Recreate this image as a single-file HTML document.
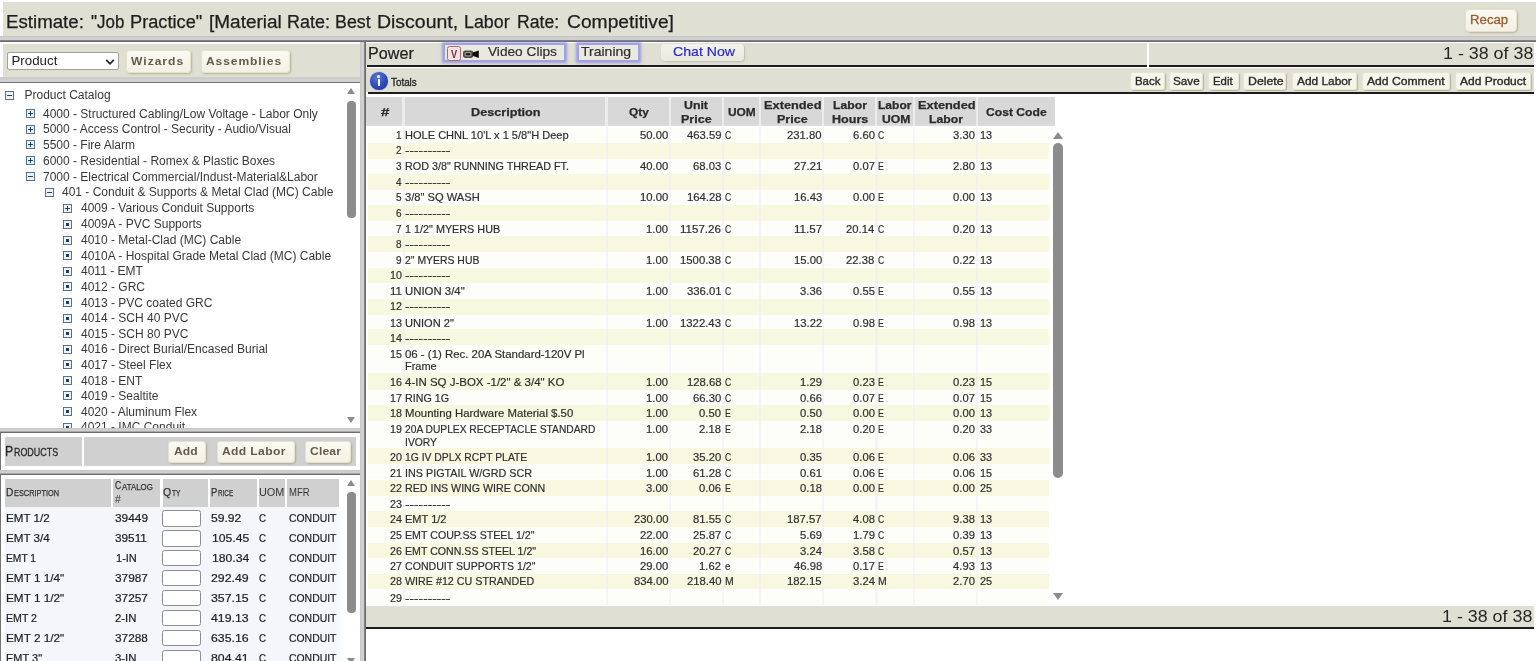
<!DOCTYPE html>
<html><head><meta charset="utf-8"><title>Estimate</title><style>
*{box-sizing:border-box;margin:0;padding:0}
html,body{width:1536px;height:661px;overflow:hidden;background:#fff}
body{font-family:"Liberation Sans",sans-serif;color:#222}
#root{position:absolute;left:0;top:0;width:1536px;height:661px;overflow:hidden;will-change:transform}
.abs{position:absolute}
.t{position:absolute;white-space:pre;line-height:1}
.beige{background:#dfdfd3}
.tr{position:absolute;height:16px;white-space:nowrap;font-size:12px;color:#383838;line-height:16px}
.ic{position:absolute;width:9px;height:9px;border:1px solid #56728f;background:#edf3fb}
.ic i{position:absolute;background:#1f3d66}
.ic .h{left:1px;top:3px;width:5px;height:1px}
.ic .v{left:3px;top:1px;width:1px;height:5px}
.ic .d{left:2px;top:2px;width:3px;height:3px}
.btn{position:absolute;border-radius:4px;background:linear-gradient(#fbfaf3,#f3f1e4);box-shadow:1px 1px 2px rgba(150,140,100,.55), inset 0 0 0 1px rgba(225,220,195,.8)}
.sb{position:absolute;border-radius:3px;background:#f6f5ec;box-shadow:1px 1px 1px rgba(160,150,120,.6), inset 0 0 0 1px #e6e3d0;height:18px;top:72.3px}
.hc{position:absolute;top:97px;height:28.8px;background:linear-gradient(#d8d8d9 0,#d8d8d9 90%,#dedede 100%)}
.row{position:absolute;left:367.6px;width:681.8px}
.vl{position:absolute;width:2.2px;margin-left:-.4px;background:rgba(232,232,246,.38);top:127px;height:478px}
.ph{position:absolute;background:#d0d0d0}
.inp{position:absolute;left:162.4px;width:39px;height:16.3px;border:1px solid #8e8e8e;border-radius:2.5px;background:#fff}
.sbar{position:absolute;background:#8c8c8c;border-radius:4px}
.up{position:absolute;width:0;height:0;border-left:4.5px solid transparent;border-right:4.5px solid transparent;border-bottom:6px solid #8c8c8c}
.dn{position:absolute;width:0;height:0;border-left:4.5px solid transparent;border-right:4.5px solid transparent;border-top:6.5px solid #8c8c8c}
</style></head><body><div id="root">
<div class="abs beige" style="left:3px;top:2px;width:1533px;height:34px"></div>
<div class="t" style="left:6.24px;top:14.30px;font-size:17.6px;transform:scaleX(1.0624);transform-origin:0 0;color:#1e1e1e;-webkit-text-stroke:.25px #1e1e1e">Estimate:</div>
<div class="t" style="left:90.70px;top:14.30px;font-size:17.6px;transform:scaleX(0.9619);transform-origin:0 0;color:#1e1e1e;-webkit-text-stroke:.25px #1e1e1e">&quot;Job</div>
<div class="t" style="left:129.56px;top:14.30px;font-size:17.6px;transform:scaleX(1.0357);transform-origin:0 0;color:#1e1e1e;-webkit-text-stroke:.25px #1e1e1e">Practice&quot;</div>
<div class="t" style="left:208.52px;top:14.30px;font-size:17.6px;transform:scaleX(1.0785);transform-origin:0 0;color:#1e1e1e;-webkit-text-stroke:.25px #1e1e1e">[Material</div>
<div class="t" style="left:287.18px;top:14.30px;font-size:17.6px;transform:scaleX(1.0208);transform-origin:0 0;color:#1e1e1e;-webkit-text-stroke:.25px #1e1e1e">Rate:</div>
<div class="t" style="left:334.99px;top:14.30px;font-size:17.6px;transform:scaleX(1.0141);transform-origin:0 0;color:#1e1e1e;-webkit-text-stroke:.25px #1e1e1e">Best</div>
<div class="t" style="left:377.19px;top:14.30px;font-size:17.6px;transform:scaleX(1.1057);transform-origin:0 0;color:#1e1e1e;-webkit-text-stroke:.25px #1e1e1e">Discount,</div>
<div class="t" style="left:463.89px;top:14.30px;font-size:17.6px;transform:scaleX(1.0150);transform-origin:0 0;color:#1e1e1e;-webkit-text-stroke:.25px #1e1e1e">Labor</div>
<div class="t" style="left:517.40px;top:14.30px;font-size:17.6px;transform:scaleX(1.0034);transform-origin:0 0;color:#1e1e1e;-webkit-text-stroke:.25px #1e1e1e">Rate:</div>
<div class="t" style="left:566.70px;top:14.30px;font-size:17.6px;transform:scaleX(1.0940);transform-origin:0 0;color:#1e1e1e;-webkit-text-stroke:.25px #1e1e1e">Competitive]</div>
<div class="btn" style="left:1464.8px;top:8.7px;width:52.2px;height:23.8px;border-radius:5px"></div>
<div class="t" style="left:1469.63px;top:13.10px;font-size:13.7px;transform:scaleX(0.9653);transform-origin:0 0;color:#9a5a2e;-webkit-text-stroke:.3px #9a5a2e">Recap</div>
<div class="abs" style="left:0;top:36px;width:1536px;height:6px;background:linear-gradient(#bebebe 0,#cecece 18%,#d1d1d1 66%,#8a8a8a 73%,#6c6c6c 80%,#6c6c6c 100%)"></div>
<div class="abs beige" style="left:3px;top:44px;width:357px;height:33.4px"></div>
<div class="abs" style="left:6.5px;top:52px;width:112.5px;height:18.3px;background:#fff;border:1px solid #a2a29a;border-radius:2px"></div>
<div class="t" style="left:11.5px;top:54.2px;font-size:13.3px;color:#222">Product</div>
<svg class="abs" style="left:105px;top:57.5px" width="10" height="8" viewBox="0 0 10 8"><path d="M1.2 1.8 L5 5.8 L8.8 1.8" fill="none" stroke="#222" stroke-width="1.7"/></svg>
<div class="btn" style="left:125.5px;top:50px;width:65.5px;height:23px"></div>
<div class="btn" style="left:201px;top:50px;width:88.5px;height:23px"></div>
<div class="t" style="left:130.50px;top:56.00px;font-size:11px;letter-spacing:0.886px;transform:scaleX(1.1);transform-origin:0 0;font-weight:bold;color:#66594a">Wizards</div>
<div class="t" style="left:206.30px;top:56.00px;font-size:11px;letter-spacing:0.795px;transform:scaleX(1.1);transform-origin:0 0;font-weight:bold;color:#66594a">Assemblies</div>
<div class="abs" style="left:0;top:76.8px;width:360.5px;height:6.2px;background:linear-gradient(#d4d4ca 0,#c8c8c8 18%,#d1d1d1 40%,#d0d0d0 78%,#8a8a8a 84%,#707070 90%,#707070 100%)"></div>
<div class="abs" style="left:0;top:82px;width:360.5px;height:345.5px;overflow:hidden">
<div class="ic" style="left:5px;top:8.50px"><i class="h"></i></div>
<div class="tr" style="left:24.5px;top:5.20px">Product Catalog</div>
<div class="ic" style="left:26px;top:27.10px"><i class="h"></i><i class="v"></i></div>
<div class="tr" style="left:43px;top:23.80px">4000 - Structured Cabling/Low Voltage - Labor Only</div>
<div class="ic" style="left:26px;top:42.60px"><i class="h"></i><i class="v"></i></div>
<div class="tr" style="left:43px;top:39.30px">5000 - Access Control - Security - Audio/Visual</div>
<div class="ic" style="left:26px;top:58.40px"><i class="h"></i><i class="v"></i></div>
<div class="tr" style="left:43px;top:55.10px">5500 - Fire Alarm</div>
<div class="ic" style="left:26px;top:73.90px"><i class="h"></i><i class="v"></i></div>
<div class="tr" style="left:43px;top:70.60px">6000 - Residential - Romex &amp; Plastic Boxes</div>
<div class="ic" style="left:26px;top:89.80px"><i class="h"></i></div>
<div class="tr" style="left:43px;top:86.50px">7000 - Electrical Commercial/Indust-Material&amp;Labor</div>
<div class="ic" style="left:44.5px;top:105.60px"><i class="h"></i></div>
<div class="tr" style="left:62px;top:102.30px">401 - Conduit &amp; Supports &amp; Metal Clad (MC) Cable</div>
<div class="ic" style="left:63px;top:121.70px"><i class="h"></i><i class="v"></i></div>
<div class="tr" style="left:81px;top:118.40px">4009 - Various Conduit Supports</div>
<div class="ic" style="left:63px;top:137.70px"><i class="d"></i></div>
<div class="tr" style="left:81px;top:134.40px">4009A - PVC Supports</div>
<div class="ic" style="left:63px;top:153.50px"><i class="d"></i></div>
<div class="tr" style="left:81px;top:150.20px">4010 - Metal-Clad (MC) Cable</div>
<div class="ic" style="left:63px;top:168.90px"><i class="d"></i></div>
<div class="tr" style="left:81px;top:165.60px">4010A - Hospital Grade Metal Clad (MC) Cable</div>
<div class="ic" style="left:63px;top:184.50px"><i class="d"></i></div>
<div class="tr" style="left:81px;top:181.20px">4011 - EMT</div>
<div class="ic" style="left:63px;top:200.30px"><i class="d"></i></div>
<div class="tr" style="left:81px;top:197.00px">4012 - GRC</div>
<div class="ic" style="left:63px;top:215.90px"><i class="d"></i></div>
<div class="tr" style="left:81px;top:212.60px">4013 - PVC coated GRC</div>
<div class="ic" style="left:63px;top:231.60px"><i class="d"></i></div>
<div class="tr" style="left:81px;top:228.30px">4014 - SCH 40 PVC</div>
<div class="ic" style="left:63px;top:247.00px"><i class="d"></i></div>
<div class="tr" style="left:81px;top:243.70px">4015 - SCH 80 PVC</div>
<div class="ic" style="left:63px;top:262.70px"><i class="d"></i></div>
<div class="tr" style="left:81px;top:259.40px">4016 - Direct Burial/Encased Burial</div>
<div class="ic" style="left:63px;top:278.30px"><i class="d"></i></div>
<div class="tr" style="left:81px;top:275.00px">4017 - Steel Flex</div>
<div class="ic" style="left:63px;top:293.80px"><i class="d"></i></div>
<div class="tr" style="left:81px;top:290.50px">4018 - ENT</div>
<div class="ic" style="left:63px;top:309.40px"><i class="d"></i></div>
<div class="tr" style="left:81px;top:306.10px">4019 - Sealtite</div>
<div class="ic" style="left:63px;top:325.10px"><i class="d"></i></div>
<div class="tr" style="left:81px;top:321.80px">4020 - Aluminum Flex</div>
<div class="ic" style="left:63px;top:340.70px"><i class="d"></i></div>
<div class="tr" style="left:81px;top:337.40px">4021 - IMC Conduit</div>
</div>
<div class="up" style="left:347px;top:87.6px"></div>
<div class="sbar" style="left:347.3px;top:101px;width:8.3px;height:116.5px"></div>
<div class="dn" style="left:347px;top:416.8px"></div>
<div class="abs" style="left:0;top:427.5px;width:360.5px;height:5.8px;background:linear-gradient(#bebebe 0,#cecece 18%,#d1d1d1 66%,#8a8a8a 73%,#6c6c6c 80%,#6c6c6c 100%)"></div>
<div class="ph" style="left:5px;top:437px;width:77.3px;height:29px"></div>
<div class="ph" style="left:84.4px;top:437px;width:271.2px;height:29px"></div>
<div class="t" style="left:4.95px;top:444.00px;font-size:14.4px;transform:scaleX(0.8500);transform-origin:0 0;color:#2a2a2a;-webkit-text-stroke:.3px #2a2a2a">P</div>
<div class="t" style="left:13.60px;top:447.50px;font-size:10.3px;transform:scaleX(0.8659);transform-origin:0 0;color:#2a2a2a;-webkit-text-stroke:.3px #2a2a2a">RODUCTS</div>
<div class="btn" style="left:167.5px;top:440.7px;width:38.5px;height:22.6px"></div>
<div class="btn" style="left:216.5px;top:440.7px;width:78.8px;height:22.6px"></div>
<div class="btn" style="left:305.4px;top:440.7px;width:45.8px;height:22.6px"></div>
<div class="t" style="left:174.20px;top:446.20px;font-size:11px;letter-spacing:0.032px;transform:scaleX(1.1);transform-origin:0 0;font-weight:bold;color:#66594a">Add</div>
<div class="t" style="left:221.60px;top:446.20px;font-size:11px;letter-spacing:0.331px;transform:scaleX(1.1);transform-origin:0 0;font-weight:bold;color:#66594a">Add Labor</div>
<div class="t" style="left:310.30px;top:446.20px;font-size:11px;letter-spacing:0.146px;transform:scaleX(1.1);transform-origin:0 0;font-weight:bold;color:#66594a">Clear</div>
<div class="abs" style="left:0;top:469.6px;width:360.5px;height:5.8px;background:linear-gradient(#bebebe 0,#cecece 18%,#d1d1d1 66%,#8a8a8a 73%,#6c6c6c 80%,#6c6c6c 100%)"></div>
<div class="abs" style="left:5px;top:507px;width:340px;height:154px;background:linear-gradient(90deg,#f4f6fc 0,#f4f6fc 97%,#fff 100%)"></div>
<div class="ph" style="left:5px;top:478.5px;width:105.5px;height:28.5px"></div>
<div class="ph" style="left:113px;top:478.5px;width:47px;height:28.5px"></div>
<div class="ph" style="left:162.5px;top:478.5px;width:45.5px;height:28.5px"></div>
<div class="ph" style="left:210px;top:478.5px;width:47px;height:28.5px"></div>
<div class="ph" style="left:259px;top:478.5px;width:26.3px;height:28.5px"></div>
<div class="ph" style="left:287.2px;top:478.5px;width:52.1px;height:28.5px"></div>
<div class="t" style="left:5.70px;top:486.70px;font-size:11.8px;transform:scaleX(0.8625);transform-origin:0 0;color:#333;-webkit-text-stroke:.25px #333">D</div>
<div class="t" style="left:13.60px;top:489.00px;font-size:8.8px;transform:scaleX(0.8388);transform-origin:0 0;color:#333;-webkit-text-stroke:.25px #333">ESCRIPTION</div>
<div class="t" style="left:114.80px;top:480.20px;font-size:11.8px;transform:scaleX(0.7333);transform-origin:0 0;color:#333;-webkit-text-stroke:.25px #333">C</div>
<div class="t" style="left:122.40px;top:482.50px;font-size:8.8px;transform:scaleX(0.8947);transform-origin:0 0;color:#333;-webkit-text-stroke:.25px #333">ATALOG</div>
<div class="t" style="left:115.00px;top:493.60px;font-size:11.2px;transform:scaleX(0.9286);transform-origin:0 0;color:#333">#</div>
<div class="t" style="left:163.20px;top:486.70px;font-size:11.8px;transform:scaleX(0.8889);transform-origin:0 0;color:#333;-webkit-text-stroke:.25px #333">Q</div>
<div class="t" style="left:172.20px;top:489.00px;font-size:8.8px;transform:scaleX(0.7561);transform-origin:0 0;color:#333;-webkit-text-stroke:.25px #333">TY</div>
<div class="t" style="left:211.00px;top:486.70px;font-size:11.8px;transform:scaleX(0.8000);transform-origin:0 0;color:#333;-webkit-text-stroke:.25px #333">P</div>
<div class="t" style="left:218.40px;top:489.00px;font-size:8.8px;transform:scaleX(0.7187);transform-origin:0 0;color:#333;-webkit-text-stroke:.25px #333">RICE</div>
<div class="t" style="left:259.30px;top:486.80px;font-size:11.2px;transform:scaleX(0.9697);transform-origin:0 0;color:#333">UOM</div>
<div class="t" style="left:289.00px;top:486.80px;font-size:11.2px;transform:scaleX(0.8488);transform-origin:0 0;color:#333">MFR</div>
<div class="t" style="left:5.80px;top:513.00px;font-size:10.8px;transform:scaleX(1.0737);transform-origin:0 0;color:#1c1c1c;-webkit-text-stroke:.2px #1c1c1c">EMT 1/2</div>
<div class="t" style="left:115.20px;top:513.00px;font-size:10.8px;transform:scaleX(1.1026);transform-origin:0 0;color:#1c1c1c;-webkit-text-stroke:.2px #1c1c1c">39449</div>
<div class="inp" style="top:510.30px"></div>
<div class="t" style="left:211.30px;top:513.00px;font-size:10.8px;transform:scaleX(1.1216);transform-origin:0 0;color:#1c1c1c;-webkit-text-stroke:.2px #1c1c1c">59.92</div>
<div class="t" style="left:259.40px;top:513.00px;font-size:10.8px;transform:scaleX(0.9000);transform-origin:0 0;color:#1c1c1c;-webkit-text-stroke:.2px #1c1c1c">C</div>
<div class="t" style="left:288.80px;top:513.00px;font-size:10.8px;transform:scaleX(0.9640);transform-origin:0 0;color:#1c1c1c;-webkit-text-stroke:.2px #1c1c1c">CONDUIT</div>
<div class="t" style="left:5.80px;top:532.95px;font-size:10.8px;transform:scaleX(1.0786);transform-origin:0 0;color:#1c1c1c;-webkit-text-stroke:.2px #1c1c1c">EMT 3/4</div>
<div class="t" style="left:115.20px;top:532.95px;font-size:10.8px;transform:scaleX(1.0918);transform-origin:0 0;color:#1c1c1c;-webkit-text-stroke:.2px #1c1c1c">39511</div>
<div class="inp" style="top:530.25px"></div>
<div class="t" style="left:211.70px;top:532.95px;font-size:10.8px;transform:scaleX(1.1266);transform-origin:0 0;color:#1c1c1c;-webkit-text-stroke:.2px #1c1c1c">105.45</div>
<div class="t" style="left:259.40px;top:532.95px;font-size:10.8px;transform:scaleX(0.9000);transform-origin:0 0;color:#1c1c1c;-webkit-text-stroke:.2px #1c1c1c">C</div>
<div class="t" style="left:288.80px;top:532.95px;font-size:10.8px;transform:scaleX(0.9640);transform-origin:0 0;color:#1c1c1c;-webkit-text-stroke:.2px #1c1c1c">CONDUIT</div>
<div class="t" style="left:5.80px;top:552.90px;font-size:10.8px;transform:scaleX(0.9500);transform-origin:0 0;color:#1c1c1c;-webkit-text-stroke:.2px #1c1c1c">EMT 1</div>
<div class="t" style="left:115.80px;top:552.90px;font-size:10.8px;transform:scaleX(1.0204);transform-origin:0 0;color:#1c1c1c;-webkit-text-stroke:.2px #1c1c1c">1-IN</div>
<div class="inp" style="top:550.20px"></div>
<div class="t" style="left:211.70px;top:552.90px;font-size:10.8px;transform:scaleX(1.1266);transform-origin:0 0;color:#1c1c1c;-webkit-text-stroke:.2px #1c1c1c">180.34</div>
<div class="t" style="left:259.40px;top:552.90px;font-size:10.8px;transform:scaleX(0.9000);transform-origin:0 0;color:#1c1c1c;-webkit-text-stroke:.2px #1c1c1c">C</div>
<div class="t" style="left:288.80px;top:552.90px;font-size:10.8px;transform:scaleX(0.9640);transform-origin:0 0;color:#1c1c1c;-webkit-text-stroke:.2px #1c1c1c">CONDUIT</div>
<div class="t" style="left:5.80px;top:572.85px;font-size:10.8px;transform:scaleX(1.0891);transform-origin:0 0;color:#1c1c1c;-webkit-text-stroke:.2px #1c1c1c">EMT 1 1/4&quot;</div>
<div class="t" style="left:115.20px;top:572.85px;font-size:10.8px;transform:scaleX(1.0960);transform-origin:0 0;color:#1c1c1c;-webkit-text-stroke:.2px #1c1c1c">37987</div>
<div class="inp" style="top:570.15px"></div>
<div class="t" style="left:211.30px;top:572.85px;font-size:10.8px;transform:scaleX(1.1388);transform-origin:0 0;color:#1c1c1c;-webkit-text-stroke:.2px #1c1c1c">292.49</div>
<div class="t" style="left:259.40px;top:572.85px;font-size:10.8px;transform:scaleX(0.9000);transform-origin:0 0;color:#1c1c1c;-webkit-text-stroke:.2px #1c1c1c">C</div>
<div class="t" style="left:288.80px;top:572.85px;font-size:10.8px;transform:scaleX(0.9640);transform-origin:0 0;color:#1c1c1c;-webkit-text-stroke:.2px #1c1c1c">CONDUIT</div>
<div class="t" style="left:5.80px;top:592.80px;font-size:10.8px;transform:scaleX(1.0891);transform-origin:0 0;color:#1c1c1c;-webkit-text-stroke:.2px #1c1c1c">EMT 1 1/2&quot;</div>
<div class="t" style="left:115.20px;top:592.80px;font-size:10.8px;transform:scaleX(1.0960);transform-origin:0 0;color:#1c1c1c;-webkit-text-stroke:.2px #1c1c1c">37257</div>
<div class="inp" style="top:590.10px"></div>
<div class="t" style="left:211.30px;top:592.80px;font-size:10.8px;transform:scaleX(1.1388);transform-origin:0 0;color:#1c1c1c;-webkit-text-stroke:.2px #1c1c1c">357.15</div>
<div class="t" style="left:259.40px;top:592.80px;font-size:10.8px;transform:scaleX(0.9000);transform-origin:0 0;color:#1c1c1c;-webkit-text-stroke:.2px #1c1c1c">C</div>
<div class="t" style="left:288.80px;top:592.80px;font-size:10.8px;transform:scaleX(0.9640);transform-origin:0 0;color:#1c1c1c;-webkit-text-stroke:.2px #1c1c1c">CONDUIT</div>
<div class="t" style="left:5.80px;top:612.75px;font-size:10.8px;transform:scaleX(0.9814);transform-origin:0 0;color:#1c1c1c;-webkit-text-stroke:.2px #1c1c1c">EMT 2</div>
<div class="t" style="left:115.20px;top:612.75px;font-size:10.8px;transform:scaleX(1.0510);transform-origin:0 0;color:#1c1c1c;-webkit-text-stroke:.2px #1c1c1c">2-IN</div>
<div class="inp" style="top:610.05px"></div>
<div class="t" style="left:211.30px;top:612.75px;font-size:10.8px;transform:scaleX(1.1388);transform-origin:0 0;color:#1c1c1c;-webkit-text-stroke:.2px #1c1c1c">419.13</div>
<div class="t" style="left:259.40px;top:612.75px;font-size:10.8px;transform:scaleX(0.9000);transform-origin:0 0;color:#1c1c1c;-webkit-text-stroke:.2px #1c1c1c">C</div>
<div class="t" style="left:288.80px;top:612.75px;font-size:10.8px;transform:scaleX(0.9640);transform-origin:0 0;color:#1c1c1c;-webkit-text-stroke:.2px #1c1c1c">CONDUIT</div>
<div class="t" style="left:5.80px;top:632.70px;font-size:10.8px;transform:scaleX(1.0891);transform-origin:0 0;color:#1c1c1c;-webkit-text-stroke:.2px #1c1c1c">EMT 2 1/2&quot;</div>
<div class="t" style="left:115.20px;top:632.70px;font-size:10.8px;transform:scaleX(1.0960);transform-origin:0 0;color:#1c1c1c;-webkit-text-stroke:.2px #1c1c1c">37288</div>
<div class="inp" style="top:630.00px"></div>
<div class="t" style="left:211.30px;top:632.70px;font-size:10.8px;transform:scaleX(1.1388);transform-origin:0 0;color:#1c1c1c;-webkit-text-stroke:.2px #1c1c1c">635.16</div>
<div class="t" style="left:259.40px;top:632.70px;font-size:10.8px;transform:scaleX(0.9000);transform-origin:0 0;color:#1c1c1c;-webkit-text-stroke:.2px #1c1c1c">C</div>
<div class="t" style="left:288.80px;top:632.70px;font-size:10.8px;transform:scaleX(0.9640);transform-origin:0 0;color:#1c1c1c;-webkit-text-stroke:.2px #1c1c1c">CONDUIT</div>
<div class="t" style="left:5.80px;top:652.65px;font-size:10.8px;transform:scaleX(1.0169);transform-origin:0 0;color:#1c1c1c;-webkit-text-stroke:.2px #1c1c1c">EMT 3&quot;</div>
<div class="t" style="left:115.20px;top:652.65px;font-size:10.8px;transform:scaleX(1.0510);transform-origin:0 0;color:#1c1c1c;-webkit-text-stroke:.2px #1c1c1c">3-IN</div>
<div class="inp" style="top:649.95px"></div>
<div class="t" style="left:211.30px;top:652.65px;font-size:10.8px;transform:scaleX(1.1388);transform-origin:0 0;color:#1c1c1c;-webkit-text-stroke:.2px #1c1c1c">804.41</div>
<div class="t" style="left:259.40px;top:652.65px;font-size:10.8px;transform:scaleX(0.9000);transform-origin:0 0;color:#1c1c1c;-webkit-text-stroke:.2px #1c1c1c">C</div>
<div class="t" style="left:288.80px;top:652.65px;font-size:10.8px;transform:scaleX(0.9640);transform-origin:0 0;color:#1c1c1c;-webkit-text-stroke:.2px #1c1c1c">CONDUIT</div>
<div class="up" style="left:347px;top:479.5px"></div>
<div class="sbar" style="left:347.3px;top:492px;width:8.3px;height:121px"></div>
<div class="dn" style="left:347.3px;top:657.6px"></div>
<div class="abs" style="left:0;top:432.8px;width:1.1px;height:37px;background:#747474"></div>
<div class="abs" style="left:0;top:474.6px;width:1.1px;height:187px;background:#747474"></div>
<div class="abs" style="left:360.2px;top:41.8px;width:5.8px;height:620px;background:linear-gradient(90deg,#c4c4c4 0,#d0d0d0 25%,#d0d0d0 66%,#8a8a8a 73%,#6e6e6e 80%,#6e6e6e 100%)"></div>
<div class="abs beige" style="left:366.3px;top:43px;width:781.2px;height:21.7px"></div>
<div class="abs beige" style="left:1149.3px;top:43px;width:385px;height:21.7px"></div>
<div class="abs" style="left:366.8px;top:64.5px;width:780.7px;height:2px;background:#1c1c1c"></div>
<div class="abs" style="left:1149.3px;top:64.5px;width:385px;height:2px;background:#1c1c1c"></div>
<div class="t" style="left:368.16px;top:46.30px;font-size:15.6px;transform:scaleX(1.0370);transform-origin:0 0;color:#222;-webkit-text-stroke:.2px #222">Power</div>
<div class="abs" style="left:443.5px;top:44px;width:121px;height:17px;box-shadow:0 0 2.5px 1.6px rgba(125,125,232,.7);background:#eae9df;border:1.4px solid #a2a2e2"></div>
<div class="abs" style="left:447.2px;top:46.1px;width:14px;height:15px;border:1.3px solid #a46c76;background:#f8dfe0;border-radius:2.5px"></div>
<div class="t" style="left:450.80px;top:49.20px;font-size:10.8px;transform:scaleX(0.8500);transform-origin:0 0;font-weight:bold;color:#6e3040">V</div>
<svg class="abs" style="left:463.3px;top:49.6px" width="17" height="9" viewBox="0 0 17 9"><rect x="0" y="0.5" width="10.4" height="7.4" rx="2.6" fill="#4c4c42"/><rect x="1.6" y="2" width="6.8" height="4.4" rx="1.6" fill="#98988e"/><rect x="2.8" y="3.2" width="4.6" height="2" rx=".8" fill="#111"/><path d="M9.6 2.6 L15.8 0.4 V8 L9.6 5.8 Z" fill="#0c0c0c"/></svg>
<div class="t" style="left:487.80px;top:44.90px;font-size:13.4px;transform:scaleX(1.0207);transform-origin:0 0;color:#2e2e2e;-webkit-text-stroke:.2px #2e2e2e">Video Clips</div>
<div class="abs" style="left:577.5px;top:44px;width:61px;height:17px;box-shadow:0 0 2.5px 1.6px rgba(125,125,232,.7);background:#eae9df;border:1.4px solid #a2a2e2"></div>
<div class="t" style="left:581.20px;top:44.90px;font-size:13.4px;transform:scaleX(1.0457);transform-origin:0 0;color:#2e2e2e;-webkit-text-stroke:.2px #2e2e2e">Training</div>
<div class="abs" style="left:661px;top:44px;width:83px;height:17px;border-radius:4px;background:linear-gradient(#f3f3ec,#e9e9df);box-shadow:1px 1px 1.5px rgba(150,150,130,.45)"></div>
<div class="t" style="left:672.60px;top:44.90px;font-size:13.4px;transform:scaleX(1.0554);transform-origin:0 0;color:#2b2bd0;-webkit-text-stroke:.2px #2b2bd0">Chat Now</div>
<div class="t" style="left:1442.52px;top:46.20px;font-size:16.6px;transform:scaleX(1.0759);transform-origin:0 0;color:#262626">1 - 38 of 38</div>
<div class="abs beige" style="left:366.3px;top:68px;width:1168px;height:24px"></div>
<div class="abs" style="left:367.6px;top:91.7px;width:1166.7px;height:2px;background:#1c1c1c"></div>
<div class="abs" style="left:369.9px;top:72.1px;width:17.7px;height:17.7px;border-radius:50%;background:radial-gradient(circle at 42% 30%,#5b7ae0 0,#3650c0 45%,#1a2c9c 100%);box-shadow:0 0 1px rgba(40,60,160,.6)"></div>
<div class="abs" style="left:377.5px;top:79.2px;width:2.7px;height:7.2px;background:#fff;border-radius:.5px"></div>
<div class="abs" style="left:377.2px;top:74.6px;width:3.3px;height:3.3px;background:#fff;border-radius:50%"></div>
<div class="t" style="left:391.30px;top:77.10px;font-size:11.4px;transform:scaleX(0.8650);transform-origin:0 0;color:#262626;-webkit-text-stroke:.35px #262626">Totals</div>
<div class="sb" style="left:1130.4px;width:34.6px"></div>
<div class="t" style="left:1135.30px;top:75.60px;font-size:11.4px;transform:scaleX(1.0028);transform-origin:0 0;color:#2a2a2a;-webkit-text-stroke:.35px #2a2a2a">Back</div>
<div class="sb" style="left:1168.6px;width:34.7px"></div>
<div class="t" style="left:1173.30px;top:75.60px;font-size:11.4px;transform:scaleX(1.0301);transform-origin:0 0;color:#2a2a2a;-webkit-text-stroke:.35px #2a2a2a">Save</div>
<div class="sb" style="left:1208.3px;width:30.3px"></div>
<div class="t" style="left:1213.40px;top:75.60px;font-size:11.4px;transform:scaleX(0.9969);transform-origin:0 0;color:#2a2a2a;-webkit-text-stroke:.35px #2a2a2a">Edit</div>
<div class="sb" style="left:1243.1px;width:43.4px"></div>
<div class="t" style="left:1247.80px;top:75.60px;font-size:11.4px;transform:scaleX(1.0831);transform-origin:0 0;color:#2a2a2a;-webkit-text-stroke:.35px #2a2a2a">Delete</div>
<div class="sb" style="left:1292.3px;width:65.1px"></div>
<div class="t" style="left:1297.40px;top:75.60px;font-size:11.4px;transform:scaleX(1.0422);transform-origin:0 0;color:#2a2a2a;-webkit-text-stroke:.35px #2a2a2a">Add Labor</div>
<div class="sb" style="left:1362.4px;width:87.4px"></div>
<div class="t" style="left:1367.20px;top:75.60px;font-size:11.4px;transform:scaleX(1.0646);transform-origin:0 0;color:#2a2a2a;-webkit-text-stroke:.35px #2a2a2a">Add Comment</div>
<div class="sb" style="left:1455.2px;width:76.0px"></div>
<div class="t" style="left:1460.00px;top:75.60px;font-size:11.4px;transform:scaleX(1.0547);transform-origin:0 0;color:#2a2a2a;-webkit-text-stroke:.35px #2a2a2a">Add Product</div>
<div class="abs" style="left:366.3px;top:97px;width:688.7px;height:28.8px;background:#ececec"></div>
<div class="hc" style="left:366.3px;width:36.1px"></div>
<div class="hc" style="left:404.6px;width:200.9px"></div>
<div class="hc" style="left:607.6px;width:61.6px"></div>
<div class="hc" style="left:671.2px;width:50.8px"></div>
<div class="hc" style="left:723.7px;width:35.6px"></div>
<div class="hc" style="left:761px;width:61.4px"></div>
<div class="hc" style="left:824.4px;width:50.9px"></div>
<div class="hc" style="left:877.3px;width:35.7px"></div>
<div class="hc" style="left:915px;width:61.0px"></div>
<div class="hc" style="left:978px;width:77.0px"></div>
<div class="t" style="left:380.60px;top:107.10px;font-size:11.0px;transform:scaleX(1.3667);transform-origin:0 0;font-weight:bold;color:#2b2b2b;-webkit-text-stroke:.25px #2b2b2b">#</div>
<div class="t" style="left:470.70px;top:107.10px;font-size:11.0px;transform:scaleX(1.1498);transform-origin:0 0;font-weight:bold;color:#2b2b2b;-webkit-text-stroke:.25px #2b2b2b">Description</div>
<div class="t" style="left:628.50px;top:107.10px;font-size:11.0px;transform:scaleX(1.0770);transform-origin:0 0;font-weight:bold;color:#2b2b2b;-webkit-text-stroke:.25px #2b2b2b">Qty</div>
<div class="t" style="left:684.20px;top:100.00px;font-size:11.0px;transform:scaleX(1.1188);transform-origin:0 0;font-weight:bold;color:#2b2b2b;-webkit-text-stroke:.25px #2b2b2b">Unit</div>
<div class="t" style="left:681.40px;top:113.50px;font-size:11.0px;transform:scaleX(1.1384);transform-origin:0 0;font-weight:bold;color:#2b2b2b;-webkit-text-stroke:.25px #2b2b2b">Price</div>
<div class="t" style="left:728.00px;top:107.10px;font-size:11.0px;transform:scaleX(1.0824);transform-origin:0 0;font-weight:bold;color:#2b2b2b;-webkit-text-stroke:.25px #2b2b2b">UOM</div>
<div class="t" style="left:763.60px;top:100.00px;font-size:11.0px;transform:scaleX(1.1621);transform-origin:0 0;font-weight:bold;color:#2b2b2b;-webkit-text-stroke:.25px #2b2b2b">Extended</div>
<div class="t" style="left:777.10px;top:113.50px;font-size:11.0px;transform:scaleX(1.1384);transform-origin:0 0;font-weight:bold;color:#2b2b2b;-webkit-text-stroke:.25px #2b2b2b">Price</div>
<div class="t" style="left:832.90px;top:100.00px;font-size:11.0px;transform:scaleX(1.1095);transform-origin:0 0;font-weight:bold;color:#2b2b2b;-webkit-text-stroke:.25px #2b2b2b">Labor</div>
<div class="t" style="left:832.40px;top:113.50px;font-size:11.0px;transform:scaleX(1.1401);transform-origin:0 0;font-weight:bold;color:#2b2b2b;-webkit-text-stroke:.25px #2b2b2b">Hours</div>
<div class="t" style="left:878.30px;top:100.00px;font-size:11.0px;transform:scaleX(1.0935);transform-origin:0 0;font-weight:bold;color:#2b2b2b;-webkit-text-stroke:.25px #2b2b2b">Labor</div>
<div class="t" style="left:881.50px;top:113.50px;font-size:11.0px;transform:scaleX(1.1059);transform-origin:0 0;font-weight:bold;color:#2b2b2b;-webkit-text-stroke:.25px #2b2b2b">UOM</div>
<div class="t" style="left:917.60px;top:100.00px;font-size:11.0px;transform:scaleX(1.1641);transform-origin:0 0;font-weight:bold;color:#2b2b2b;-webkit-text-stroke:.25px #2b2b2b">Extended</div>
<div class="t" style="left:928.60px;top:113.50px;font-size:11.0px;transform:scaleX(1.1127);transform-origin:0 0;font-weight:bold;color:#2b2b2b;-webkit-text-stroke:.25px #2b2b2b">Labor</div>
<div class="t" style="left:985.90px;top:107.10px;font-size:11.0px;transform:scaleX(1.1024);transform-origin:0 0;font-weight:bold;color:#2b2b2b;-webkit-text-stroke:.25px #2b2b2b">Cost Code</div>
<div class="row" style="top:127.50px;height:15.90px;background:#fdfdf9"></div>
<div class="t" style="left:396.34px;top:131.40px;font-size:10.4px;transform:scaleX(0.9600);transform-origin:0 0;color:#2e2e2e;-webkit-text-stroke:.18px #2e2e2e">1</div>
<div class="t" style="left:404.60px;top:131.40px;font-size:10.4px;transform:scaleX(1.0629);transform-origin:0 0;color:#2e2e2e;-webkit-text-stroke:.18px #2e2e2e">HOLE CHNL 10&#x27;L x 1 5/8&quot;H Deep</div>
<div class="t" style="left:640.12px;top:131.40px;font-size:10.4px;transform:scaleX(1.0861);transform-origin:0 0;color:#2e2e2e;-webkit-text-stroke:.18px #2e2e2e">50.00</div>
<div class="t" style="left:686.56px;top:131.40px;font-size:10.4px;transform:scaleX(1.0887);transform-origin:0 0;color:#2e2e2e;-webkit-text-stroke:.18px #2e2e2e">463.59</div>
<div class="t" style="left:724.60px;top:131.40px;font-size:10.4px;transform:scaleX(0.8225);transform-origin:0 0;color:#2e2e2e;-webkit-text-stroke:.18px #2e2e2e">C</div>
<div class="t" style="left:787.16px;top:131.40px;font-size:10.4px;transform:scaleX(1.0887);transform-origin:0 0;color:#2e2e2e;-webkit-text-stroke:.18px #2e2e2e">231.80</div>
<div class="t" style="left:852.78px;top:131.40px;font-size:10.4px;transform:scaleX(1.0820);transform-origin:0 0;color:#2e2e2e;-webkit-text-stroke:.18px #2e2e2e">6.60</div>
<div class="t" style="left:877.90px;top:131.40px;font-size:10.4px;transform:scaleX(0.8225);transform-origin:0 0;color:#2e2e2e;-webkit-text-stroke:.18px #2e2e2e">C</div>
<div class="t" style="left:953.18px;top:131.40px;font-size:10.4px;transform:scaleX(1.0820);transform-origin:0 0;color:#2e2e2e;-webkit-text-stroke:.18px #2e2e2e">3.30</div>
<div class="t" style="left:979.50px;top:131.40px;font-size:10.4px;transform:scaleX(1.0459);transform-origin:0 0;color:#2e2e2e;-webkit-text-stroke:.18px #2e2e2e">13</div>
<div class="row" style="top:143.40px;height:15.20px;background:#f8f8e0"></div>
<div class="t" style="left:396.34px;top:146.20px;font-size:10.4px;transform:scaleX(0.9600);transform-origin:0 0;color:#2e2e2e;-webkit-text-stroke:.18px #2e2e2e">2</div>
<div class="t" style="left:404.60px;top:146.20px;font-size:10.4px;transform:scaleX(1.3121);transform-origin:0 0;color:#2e2e2e;-webkit-text-stroke:.18px #2e2e2e">----------</div>
<div class="row" style="top:158.60px;height:15.80px;background:#fdfdf9"></div>
<div class="t" style="left:396.34px;top:162.30px;font-size:10.4px;transform:scaleX(0.9600);transform-origin:0 0;color:#2e2e2e;-webkit-text-stroke:.18px #2e2e2e">3</div>
<div class="t" style="left:404.60px;top:162.30px;font-size:10.4px;transform:scaleX(1.0364);transform-origin:0 0;color:#2e2e2e;-webkit-text-stroke:.18px #2e2e2e">ROD 3/8&quot; RUNNING THREAD FT.</div>
<div class="t" style="left:640.12px;top:162.30px;font-size:10.4px;transform:scaleX(1.0861);transform-origin:0 0;color:#2e2e2e;-webkit-text-stroke:.18px #2e2e2e">40.00</div>
<div class="t" style="left:692.92px;top:162.30px;font-size:10.4px;transform:scaleX(1.0861);transform-origin:0 0;color:#2e2e2e;-webkit-text-stroke:.18px #2e2e2e">68.03</div>
<div class="t" style="left:724.60px;top:162.30px;font-size:10.4px;transform:scaleX(0.8225);transform-origin:0 0;color:#2e2e2e;-webkit-text-stroke:.18px #2e2e2e">C</div>
<div class="t" style="left:793.52px;top:162.30px;font-size:10.4px;transform:scaleX(1.0861);transform-origin:0 0;color:#2e2e2e;-webkit-text-stroke:.18px #2e2e2e">27.21</div>
<div class="t" style="left:852.78px;top:162.30px;font-size:10.4px;transform:scaleX(1.0820);transform-origin:0 0;color:#2e2e2e;-webkit-text-stroke:.18px #2e2e2e">0.07</div>
<div class="t" style="left:877.90px;top:162.30px;font-size:10.4px;transform:scaleX(0.8457);transform-origin:0 0;color:#2e2e2e;-webkit-text-stroke:.18px #2e2e2e">E</div>
<div class="t" style="left:953.18px;top:162.30px;font-size:10.4px;transform:scaleX(1.0820);transform-origin:0 0;color:#2e2e2e;-webkit-text-stroke:.18px #2e2e2e">2.80</div>
<div class="t" style="left:979.50px;top:162.30px;font-size:10.4px;transform:scaleX(1.0459);transform-origin:0 0;color:#2e2e2e;-webkit-text-stroke:.18px #2e2e2e">13</div>
<div class="row" style="top:174.40px;height:15.60px;background:#f8f8e0"></div>
<div class="t" style="left:396.34px;top:177.60px;font-size:10.4px;transform:scaleX(0.9600);transform-origin:0 0;color:#2e2e2e;-webkit-text-stroke:.18px #2e2e2e">4</div>
<div class="t" style="left:404.60px;top:177.60px;font-size:10.4px;transform:scaleX(1.3121);transform-origin:0 0;color:#2e2e2e;-webkit-text-stroke:.18px #2e2e2e">----------</div>
<div class="row" style="top:190.00px;height:15.20px;background:#fdfdf9"></div>
<div class="t" style="left:396.34px;top:193.00px;font-size:10.4px;transform:scaleX(0.9600);transform-origin:0 0;color:#2e2e2e;-webkit-text-stroke:.18px #2e2e2e">5</div>
<div class="t" style="left:404.60px;top:193.00px;font-size:10.4px;transform:scaleX(1.0714);transform-origin:0 0;color:#2e2e2e;-webkit-text-stroke:.18px #2e2e2e">3/8&quot; SQ WASH</div>
<div class="t" style="left:640.12px;top:193.00px;font-size:10.4px;transform:scaleX(1.0861);transform-origin:0 0;color:#2e2e2e;-webkit-text-stroke:.18px #2e2e2e">10.00</div>
<div class="t" style="left:686.56px;top:193.00px;font-size:10.4px;transform:scaleX(1.0887);transform-origin:0 0;color:#2e2e2e;-webkit-text-stroke:.18px #2e2e2e">164.28</div>
<div class="t" style="left:724.60px;top:193.00px;font-size:10.4px;transform:scaleX(0.8225);transform-origin:0 0;color:#2e2e2e;-webkit-text-stroke:.18px #2e2e2e">C</div>
<div class="t" style="left:793.52px;top:193.00px;font-size:10.4px;transform:scaleX(1.0861);transform-origin:0 0;color:#2e2e2e;-webkit-text-stroke:.18px #2e2e2e">16.43</div>
<div class="t" style="left:852.78px;top:193.00px;font-size:10.4px;transform:scaleX(1.0820);transform-origin:0 0;color:#2e2e2e;-webkit-text-stroke:.18px #2e2e2e">0.00</div>
<div class="t" style="left:877.90px;top:193.00px;font-size:10.4px;transform:scaleX(0.8457);transform-origin:0 0;color:#2e2e2e;-webkit-text-stroke:.18px #2e2e2e">E</div>
<div class="t" style="left:953.18px;top:193.00px;font-size:10.4px;transform:scaleX(1.0820);transform-origin:0 0;color:#2e2e2e;-webkit-text-stroke:.18px #2e2e2e">0.00</div>
<div class="t" style="left:979.50px;top:193.00px;font-size:10.4px;transform:scaleX(1.0459);transform-origin:0 0;color:#2e2e2e;-webkit-text-stroke:.18px #2e2e2e">13</div>
<div class="row" style="top:205.20px;height:16.00px;background:#f8f8e0"></div>
<div class="t" style="left:396.34px;top:208.70px;font-size:10.4px;transform:scaleX(0.9600);transform-origin:0 0;color:#2e2e2e;-webkit-text-stroke:.18px #2e2e2e">6</div>
<div class="t" style="left:404.60px;top:208.70px;font-size:10.4px;transform:scaleX(1.3121);transform-origin:0 0;color:#2e2e2e;-webkit-text-stroke:.18px #2e2e2e">----------</div>
<div class="row" style="top:221.20px;height:15.00px;background:#fdfdf9"></div>
<div class="t" style="left:396.34px;top:224.80px;font-size:10.4px;transform:scaleX(0.9600);transform-origin:0 0;color:#2e2e2e;-webkit-text-stroke:.18px #2e2e2e">7</div>
<div class="t" style="left:404.60px;top:224.80px;font-size:10.4px;transform:scaleX(1.0403);transform-origin:0 0;color:#2e2e2e;-webkit-text-stroke:.18px #2e2e2e">1 1/2&quot; MYERS HUB</div>
<div class="t" style="left:646.48px;top:224.80px;font-size:10.4px;transform:scaleX(1.0820);transform-origin:0 0;color:#2e2e2e;-webkit-text-stroke:.18px #2e2e2e">1.00</div>
<div class="t" style="left:680.20px;top:224.80px;font-size:10.4px;transform:scaleX(1.1132);transform-origin:0 0;color:#2e2e2e;-webkit-text-stroke:.18px #2e2e2e">1157.26</div>
<div class="t" style="left:724.60px;top:224.80px;font-size:10.4px;transform:scaleX(0.8225);transform-origin:0 0;color:#2e2e2e;-webkit-text-stroke:.18px #2e2e2e">C</div>
<div class="t" style="left:793.52px;top:224.80px;font-size:10.4px;transform:scaleX(1.1190);transform-origin:0 0;color:#2e2e2e;-webkit-text-stroke:.18px #2e2e2e">11.57</div>
<div class="t" style="left:846.42px;top:224.80px;font-size:10.4px;transform:scaleX(1.0861);transform-origin:0 0;color:#2e2e2e;-webkit-text-stroke:.18px #2e2e2e">20.14</div>
<div class="t" style="left:877.90px;top:224.80px;font-size:10.4px;transform:scaleX(0.8225);transform-origin:0 0;color:#2e2e2e;-webkit-text-stroke:.18px #2e2e2e">C</div>
<div class="t" style="left:953.18px;top:224.80px;font-size:10.4px;transform:scaleX(1.0820);transform-origin:0 0;color:#2e2e2e;-webkit-text-stroke:.18px #2e2e2e">0.20</div>
<div class="t" style="left:979.50px;top:224.80px;font-size:10.4px;transform:scaleX(1.0459);transform-origin:0 0;color:#2e2e2e;-webkit-text-stroke:.18px #2e2e2e">13</div>
<div class="row" style="top:236.20px;height:16.00px;background:#f8f8e0"></div>
<div class="t" style="left:396.34px;top:240.00px;font-size:10.4px;transform:scaleX(0.9600);transform-origin:0 0;color:#2e2e2e;-webkit-text-stroke:.18px #2e2e2e">8</div>
<div class="t" style="left:404.60px;top:240.00px;font-size:10.4px;transform:scaleX(1.3121);transform-origin:0 0;color:#2e2e2e;-webkit-text-stroke:.18px #2e2e2e">----------</div>
<div class="row" style="top:252.20px;height:15.30px;background:#fdfdf9"></div>
<div class="t" style="left:396.34px;top:256.20px;font-size:10.4px;transform:scaleX(0.9600);transform-origin:0 0;color:#2e2e2e;-webkit-text-stroke:.18px #2e2e2e">9</div>
<div class="t" style="left:404.60px;top:256.20px;font-size:10.4px;transform:scaleX(1.0032);transform-origin:0 0;color:#2e2e2e;-webkit-text-stroke:.18px #2e2e2e">2&quot; MYERS HUB</div>
<div class="t" style="left:646.48px;top:256.20px;font-size:10.4px;transform:scaleX(1.0820);transform-origin:0 0;color:#2e2e2e;-webkit-text-stroke:.18px #2e2e2e">1.00</div>
<div class="t" style="left:680.20px;top:256.20px;font-size:10.4px;transform:scaleX(1.0905);transform-origin:0 0;color:#2e2e2e;-webkit-text-stroke:.18px #2e2e2e">1500.38</div>
<div class="t" style="left:724.60px;top:256.20px;font-size:10.4px;transform:scaleX(0.8225);transform-origin:0 0;color:#2e2e2e;-webkit-text-stroke:.18px #2e2e2e">C</div>
<div class="t" style="left:793.52px;top:256.20px;font-size:10.4px;transform:scaleX(1.0861);transform-origin:0 0;color:#2e2e2e;-webkit-text-stroke:.18px #2e2e2e">15.00</div>
<div class="t" style="left:846.42px;top:256.20px;font-size:10.4px;transform:scaleX(1.0861);transform-origin:0 0;color:#2e2e2e;-webkit-text-stroke:.18px #2e2e2e">22.38</div>
<div class="t" style="left:877.90px;top:256.20px;font-size:10.4px;transform:scaleX(0.8225);transform-origin:0 0;color:#2e2e2e;-webkit-text-stroke:.18px #2e2e2e">C</div>
<div class="t" style="left:953.18px;top:256.20px;font-size:10.4px;transform:scaleX(1.0820);transform-origin:0 0;color:#2e2e2e;-webkit-text-stroke:.18px #2e2e2e">0.22</div>
<div class="t" style="left:979.50px;top:256.20px;font-size:10.4px;transform:scaleX(1.0459);transform-origin:0 0;color:#2e2e2e;-webkit-text-stroke:.18px #2e2e2e">13</div>
<div class="row" style="top:267.50px;height:15.50px;background:#f8f8e0"></div>
<div class="t" style="left:389.98px;top:271.00px;font-size:10.4px;transform:scaleX(1.0290);transform-origin:0 0;color:#2e2e2e;-webkit-text-stroke:.18px #2e2e2e">10</div>
<div class="t" style="left:404.60px;top:271.00px;font-size:10.4px;transform:scaleX(1.3121);transform-origin:0 0;color:#2e2e2e;-webkit-text-stroke:.18px #2e2e2e">----------</div>
<div class="row" style="top:283.00px;height:16.00px;background:#fdfdf9"></div>
<div class="t" style="left:389.98px;top:287.20px;font-size:10.4px;transform:scaleX(1.1011);transform-origin:0 0;color:#2e2e2e;-webkit-text-stroke:.18px #2e2e2e">11</div>
<div class="t" style="left:404.60px;top:287.20px;font-size:10.4px;transform:scaleX(1.0960);transform-origin:0 0;color:#2e2e2e;-webkit-text-stroke:.18px #2e2e2e">UNION 3/4&quot;</div>
<div class="t" style="left:646.48px;top:287.20px;font-size:10.4px;transform:scaleX(1.0820);transform-origin:0 0;color:#2e2e2e;-webkit-text-stroke:.18px #2e2e2e">1.00</div>
<div class="t" style="left:686.56px;top:287.20px;font-size:10.4px;transform:scaleX(1.0887);transform-origin:0 0;color:#2e2e2e;-webkit-text-stroke:.18px #2e2e2e">336.01</div>
<div class="t" style="left:724.60px;top:287.20px;font-size:10.4px;transform:scaleX(0.8225);transform-origin:0 0;color:#2e2e2e;-webkit-text-stroke:.18px #2e2e2e">C</div>
<div class="t" style="left:799.88px;top:287.20px;font-size:10.4px;transform:scaleX(1.0820);transform-origin:0 0;color:#2e2e2e;-webkit-text-stroke:.18px #2e2e2e">3.36</div>
<div class="t" style="left:852.78px;top:287.20px;font-size:10.4px;transform:scaleX(1.0820);transform-origin:0 0;color:#2e2e2e;-webkit-text-stroke:.18px #2e2e2e">0.55</div>
<div class="t" style="left:877.90px;top:287.20px;font-size:10.4px;transform:scaleX(0.8457);transform-origin:0 0;color:#2e2e2e;-webkit-text-stroke:.18px #2e2e2e">E</div>
<div class="t" style="left:953.18px;top:287.20px;font-size:10.4px;transform:scaleX(1.0820);transform-origin:0 0;color:#2e2e2e;-webkit-text-stroke:.18px #2e2e2e">0.55</div>
<div class="t" style="left:979.50px;top:287.20px;font-size:10.4px;transform:scaleX(1.0459);transform-origin:0 0;color:#2e2e2e;-webkit-text-stroke:.18px #2e2e2e">13</div>
<div class="row" style="top:299.00px;height:15.70px;background:#f8f8e0"></div>
<div class="t" style="left:389.98px;top:302.40px;font-size:10.4px;transform:scaleX(1.0290);transform-origin:0 0;color:#2e2e2e;-webkit-text-stroke:.18px #2e2e2e">12</div>
<div class="t" style="left:404.60px;top:302.40px;font-size:10.4px;transform:scaleX(1.3121);transform-origin:0 0;color:#2e2e2e;-webkit-text-stroke:.18px #2e2e2e">----------</div>
<div class="row" style="top:314.70px;height:14.70px;background:#fdfdf9"></div>
<div class="t" style="left:389.98px;top:318.70px;font-size:10.4px;transform:scaleX(1.0290);transform-origin:0 0;color:#2e2e2e;-webkit-text-stroke:.18px #2e2e2e">13</div>
<div class="t" style="left:404.60px;top:318.70px;font-size:10.4px;transform:scaleX(1.0654);transform-origin:0 0;color:#2e2e2e;-webkit-text-stroke:.18px #2e2e2e">UNION 2&quot;</div>
<div class="t" style="left:646.48px;top:318.70px;font-size:10.4px;transform:scaleX(1.0820);transform-origin:0 0;color:#2e2e2e;-webkit-text-stroke:.18px #2e2e2e">1.00</div>
<div class="t" style="left:680.20px;top:318.70px;font-size:10.4px;transform:scaleX(1.0905);transform-origin:0 0;color:#2e2e2e;-webkit-text-stroke:.18px #2e2e2e">1322.43</div>
<div class="t" style="left:724.60px;top:318.70px;font-size:10.4px;transform:scaleX(0.8225);transform-origin:0 0;color:#2e2e2e;-webkit-text-stroke:.18px #2e2e2e">C</div>
<div class="t" style="left:793.52px;top:318.70px;font-size:10.4px;transform:scaleX(1.0861);transform-origin:0 0;color:#2e2e2e;-webkit-text-stroke:.18px #2e2e2e">13.22</div>
<div class="t" style="left:852.78px;top:318.70px;font-size:10.4px;transform:scaleX(1.0820);transform-origin:0 0;color:#2e2e2e;-webkit-text-stroke:.18px #2e2e2e">0.98</div>
<div class="t" style="left:877.90px;top:318.70px;font-size:10.4px;transform:scaleX(0.8457);transform-origin:0 0;color:#2e2e2e;-webkit-text-stroke:.18px #2e2e2e">E</div>
<div class="t" style="left:953.18px;top:318.70px;font-size:10.4px;transform:scaleX(1.0820);transform-origin:0 0;color:#2e2e2e;-webkit-text-stroke:.18px #2e2e2e">0.98</div>
<div class="t" style="left:979.50px;top:318.70px;font-size:10.4px;transform:scaleX(1.0459);transform-origin:0 0;color:#2e2e2e;-webkit-text-stroke:.18px #2e2e2e">13</div>
<div class="row" style="top:329.40px;height:15.40px;background:#f8f8e0"></div>
<div class="t" style="left:389.98px;top:333.60px;font-size:10.4px;transform:scaleX(1.0290);transform-origin:0 0;color:#2e2e2e;-webkit-text-stroke:.18px #2e2e2e">14</div>
<div class="t" style="left:404.60px;top:333.60px;font-size:10.4px;transform:scaleX(1.3121);transform-origin:0 0;color:#2e2e2e;-webkit-text-stroke:.18px #2e2e2e">----------</div>
<div class="row" style="top:344.80px;height:28.40px;background:#fdfdf9"></div>
<div class="t" style="left:389.98px;top:349.70px;font-size:10.4px;transform:scaleX(1.0290);transform-origin:0 0;color:#2e2e2e;-webkit-text-stroke:.18px #2e2e2e">15</div>
<div class="t" style="left:404.60px;top:349.70px;font-size:10.4px;transform:scaleX(1.0988);transform-origin:0 0;color:#2e2e2e;-webkit-text-stroke:.18px #2e2e2e">06 - (1) Rec. 20A Standard-120V Pl</div>
<div class="t" style="left:404.60px;top:362.40px;font-size:10.4px;transform:scaleX(1.0566);transform-origin:0 0;color:#2e2e2e;-webkit-text-stroke:.18px #2e2e2e">Frame</div>
<div class="row" style="top:373.20px;height:16.40px;background:#f8f8e0"></div>
<div class="t" style="left:389.98px;top:377.70px;font-size:10.4px;transform:scaleX(1.0290);transform-origin:0 0;color:#2e2e2e;-webkit-text-stroke:.18px #2e2e2e">16</div>
<div class="t" style="left:404.60px;top:377.70px;font-size:10.4px;transform:scaleX(1.1051);transform-origin:0 0;color:#2e2e2e;-webkit-text-stroke:.18px #2e2e2e">4-IN SQ J-BOX -1/2&quot; &amp; 3/4&quot; KO</div>
<div class="t" style="left:646.48px;top:377.70px;font-size:10.4px;transform:scaleX(1.0820);transform-origin:0 0;color:#2e2e2e;-webkit-text-stroke:.18px #2e2e2e">1.00</div>
<div class="t" style="left:686.56px;top:377.70px;font-size:10.4px;transform:scaleX(1.0887);transform-origin:0 0;color:#2e2e2e;-webkit-text-stroke:.18px #2e2e2e">128.68</div>
<div class="t" style="left:724.60px;top:377.70px;font-size:10.4px;transform:scaleX(0.8225);transform-origin:0 0;color:#2e2e2e;-webkit-text-stroke:.18px #2e2e2e">C</div>
<div class="t" style="left:799.88px;top:377.70px;font-size:10.4px;transform:scaleX(1.0820);transform-origin:0 0;color:#2e2e2e;-webkit-text-stroke:.18px #2e2e2e">1.29</div>
<div class="t" style="left:852.78px;top:377.70px;font-size:10.4px;transform:scaleX(1.0820);transform-origin:0 0;color:#2e2e2e;-webkit-text-stroke:.18px #2e2e2e">0.23</div>
<div class="t" style="left:877.90px;top:377.70px;font-size:10.4px;transform:scaleX(0.8457);transform-origin:0 0;color:#2e2e2e;-webkit-text-stroke:.18px #2e2e2e">E</div>
<div class="t" style="left:953.18px;top:377.70px;font-size:10.4px;transform:scaleX(1.0820);transform-origin:0 0;color:#2e2e2e;-webkit-text-stroke:.18px #2e2e2e">0.23</div>
<div class="t" style="left:979.50px;top:377.70px;font-size:10.4px;transform:scaleX(1.0459);transform-origin:0 0;color:#2e2e2e;-webkit-text-stroke:.18px #2e2e2e">15</div>
<div class="row" style="top:389.60px;height:15.10px;background:#fdfdf9"></div>
<div class="t" style="left:389.98px;top:393.80px;font-size:10.4px;transform:scaleX(1.0290);transform-origin:0 0;color:#2e2e2e;-webkit-text-stroke:.18px #2e2e2e">17</div>
<div class="t" style="left:404.60px;top:393.80px;font-size:10.4px;transform:scaleX(1.0303);transform-origin:0 0;color:#2e2e2e;-webkit-text-stroke:.18px #2e2e2e">RING 1G</div>
<div class="t" style="left:646.48px;top:393.80px;font-size:10.4px;transform:scaleX(1.0820);transform-origin:0 0;color:#2e2e2e;-webkit-text-stroke:.18px #2e2e2e">1.00</div>
<div class="t" style="left:692.92px;top:393.80px;font-size:10.4px;transform:scaleX(1.0861);transform-origin:0 0;color:#2e2e2e;-webkit-text-stroke:.18px #2e2e2e">66.30</div>
<div class="t" style="left:724.60px;top:393.80px;font-size:10.4px;transform:scaleX(0.8225);transform-origin:0 0;color:#2e2e2e;-webkit-text-stroke:.18px #2e2e2e">C</div>
<div class="t" style="left:799.88px;top:393.80px;font-size:10.4px;transform:scaleX(1.0820);transform-origin:0 0;color:#2e2e2e;-webkit-text-stroke:.18px #2e2e2e">0.66</div>
<div class="t" style="left:852.78px;top:393.80px;font-size:10.4px;transform:scaleX(1.0820);transform-origin:0 0;color:#2e2e2e;-webkit-text-stroke:.18px #2e2e2e">0.07</div>
<div class="t" style="left:877.90px;top:393.80px;font-size:10.4px;transform:scaleX(0.8457);transform-origin:0 0;color:#2e2e2e;-webkit-text-stroke:.18px #2e2e2e">E</div>
<div class="t" style="left:953.18px;top:393.80px;font-size:10.4px;transform:scaleX(1.0820);transform-origin:0 0;color:#2e2e2e;-webkit-text-stroke:.18px #2e2e2e">0.07</div>
<div class="t" style="left:979.50px;top:393.80px;font-size:10.4px;transform:scaleX(1.0459);transform-origin:0 0;color:#2e2e2e;-webkit-text-stroke:.18px #2e2e2e">15</div>
<div class="row" style="top:404.70px;height:15.90px;background:#f8f8e0"></div>
<div class="t" style="left:389.98px;top:408.90px;font-size:10.4px;transform:scaleX(1.0290);transform-origin:0 0;color:#2e2e2e;-webkit-text-stroke:.18px #2e2e2e">18</div>
<div class="t" style="left:404.60px;top:408.90px;font-size:10.4px;transform:scaleX(1.0950);transform-origin:0 0;color:#2e2e2e;-webkit-text-stroke:.18px #2e2e2e">Mounting Hardware Material $.50</div>
<div class="t" style="left:646.48px;top:408.90px;font-size:10.4px;transform:scaleX(1.0820);transform-origin:0 0;color:#2e2e2e;-webkit-text-stroke:.18px #2e2e2e">1.00</div>
<div class="t" style="left:699.28px;top:408.90px;font-size:10.4px;transform:scaleX(1.0820);transform-origin:0 0;color:#2e2e2e;-webkit-text-stroke:.18px #2e2e2e">0.50</div>
<div class="t" style="left:724.60px;top:408.90px;font-size:10.4px;transform:scaleX(0.8457);transform-origin:0 0;color:#2e2e2e;-webkit-text-stroke:.18px #2e2e2e">E</div>
<div class="t" style="left:799.88px;top:408.90px;font-size:10.4px;transform:scaleX(1.0820);transform-origin:0 0;color:#2e2e2e;-webkit-text-stroke:.18px #2e2e2e">0.50</div>
<div class="t" style="left:852.78px;top:408.90px;font-size:10.4px;transform:scaleX(1.0820);transform-origin:0 0;color:#2e2e2e;-webkit-text-stroke:.18px #2e2e2e">0.00</div>
<div class="t" style="left:877.90px;top:408.90px;font-size:10.4px;transform:scaleX(0.8457);transform-origin:0 0;color:#2e2e2e;-webkit-text-stroke:.18px #2e2e2e">E</div>
<div class="t" style="left:953.18px;top:408.90px;font-size:10.4px;transform:scaleX(1.0820);transform-origin:0 0;color:#2e2e2e;-webkit-text-stroke:.18px #2e2e2e">0.00</div>
<div class="t" style="left:979.50px;top:408.90px;font-size:10.4px;transform:scaleX(1.0459);transform-origin:0 0;color:#2e2e2e;-webkit-text-stroke:.18px #2e2e2e">13</div>
<div class="row" style="top:420.60px;height:27.80px;background:#fdfdf9"></div>
<div class="t" style="left:389.98px;top:424.90px;font-size:10.4px;transform:scaleX(1.0290);transform-origin:0 0;color:#2e2e2e;-webkit-text-stroke:.18px #2e2e2e">19</div>
<div class="t" style="left:404.60px;top:424.90px;font-size:10.4px;transform:scaleX(0.9860);transform-origin:0 0;color:#2e2e2e;-webkit-text-stroke:.18px #2e2e2e">20A DUPLEX RECEPTACLE STANDARD</div>
<div class="t" style="left:404.60px;top:437.60px;font-size:10.4px;transform:scaleX(0.9961);transform-origin:0 0;color:#2e2e2e;-webkit-text-stroke:.18px #2e2e2e">IVORY</div>
<div class="t" style="left:646.48px;top:424.90px;font-size:10.4px;transform:scaleX(1.0820);transform-origin:0 0;color:#2e2e2e;-webkit-text-stroke:.18px #2e2e2e">1.00</div>
<div class="t" style="left:699.28px;top:424.90px;font-size:10.4px;transform:scaleX(1.0820);transform-origin:0 0;color:#2e2e2e;-webkit-text-stroke:.18px #2e2e2e">2.18</div>
<div class="t" style="left:724.60px;top:424.90px;font-size:10.4px;transform:scaleX(0.8457);transform-origin:0 0;color:#2e2e2e;-webkit-text-stroke:.18px #2e2e2e">E</div>
<div class="t" style="left:799.88px;top:424.90px;font-size:10.4px;transform:scaleX(1.0820);transform-origin:0 0;color:#2e2e2e;-webkit-text-stroke:.18px #2e2e2e">2.18</div>
<div class="t" style="left:852.78px;top:424.90px;font-size:10.4px;transform:scaleX(1.0820);transform-origin:0 0;color:#2e2e2e;-webkit-text-stroke:.18px #2e2e2e">0.20</div>
<div class="t" style="left:877.90px;top:424.90px;font-size:10.4px;transform:scaleX(0.8457);transform-origin:0 0;color:#2e2e2e;-webkit-text-stroke:.18px #2e2e2e">E</div>
<div class="t" style="left:953.18px;top:424.90px;font-size:10.4px;transform:scaleX(1.0820);transform-origin:0 0;color:#2e2e2e;-webkit-text-stroke:.18px #2e2e2e">0.20</div>
<div class="t" style="left:979.50px;top:424.90px;font-size:10.4px;transform:scaleX(1.0459);transform-origin:0 0;color:#2e2e2e;-webkit-text-stroke:.18px #2e2e2e">33</div>
<div class="row" style="top:448.40px;height:15.80px;background:#f8f8e0"></div>
<div class="t" style="left:389.98px;top:452.90px;font-size:10.4px;transform:scaleX(1.0290);transform-origin:0 0;color:#2e2e2e;-webkit-text-stroke:.18px #2e2e2e">20</div>
<div class="t" style="left:404.60px;top:452.90px;font-size:10.4px;transform:scaleX(0.9971);transform-origin:0 0;color:#2e2e2e;-webkit-text-stroke:.18px #2e2e2e">1G IV DPLX RCPT PLATE</div>
<div class="t" style="left:646.48px;top:452.90px;font-size:10.4px;transform:scaleX(1.0820);transform-origin:0 0;color:#2e2e2e;-webkit-text-stroke:.18px #2e2e2e">1.00</div>
<div class="t" style="left:692.92px;top:452.90px;font-size:10.4px;transform:scaleX(1.0861);transform-origin:0 0;color:#2e2e2e;-webkit-text-stroke:.18px #2e2e2e">35.20</div>
<div class="t" style="left:724.60px;top:452.90px;font-size:10.4px;transform:scaleX(0.8225);transform-origin:0 0;color:#2e2e2e;-webkit-text-stroke:.18px #2e2e2e">C</div>
<div class="t" style="left:799.88px;top:452.90px;font-size:10.4px;transform:scaleX(1.0820);transform-origin:0 0;color:#2e2e2e;-webkit-text-stroke:.18px #2e2e2e">0.35</div>
<div class="t" style="left:852.78px;top:452.90px;font-size:10.4px;transform:scaleX(1.0820);transform-origin:0 0;color:#2e2e2e;-webkit-text-stroke:.18px #2e2e2e">0.06</div>
<div class="t" style="left:877.90px;top:452.90px;font-size:10.4px;transform:scaleX(0.8457);transform-origin:0 0;color:#2e2e2e;-webkit-text-stroke:.18px #2e2e2e">E</div>
<div class="t" style="left:953.18px;top:452.90px;font-size:10.4px;transform:scaleX(1.0820);transform-origin:0 0;color:#2e2e2e;-webkit-text-stroke:.18px #2e2e2e">0.06</div>
<div class="t" style="left:979.50px;top:452.90px;font-size:10.4px;transform:scaleX(1.0459);transform-origin:0 0;color:#2e2e2e;-webkit-text-stroke:.18px #2e2e2e">33</div>
<div class="row" style="top:464.20px;height:15.30px;background:#fdfdf9"></div>
<div class="t" style="left:389.98px;top:468.60px;font-size:10.4px;transform:scaleX(1.0290);transform-origin:0 0;color:#2e2e2e;-webkit-text-stroke:.18px #2e2e2e">21</div>
<div class="t" style="left:404.60px;top:468.60px;font-size:10.4px;transform:scaleX(1.0382);transform-origin:0 0;color:#2e2e2e;-webkit-text-stroke:.18px #2e2e2e">INS PIGTAIL W/GRD SCR</div>
<div class="t" style="left:646.48px;top:468.60px;font-size:10.4px;transform:scaleX(1.0820);transform-origin:0 0;color:#2e2e2e;-webkit-text-stroke:.18px #2e2e2e">1.00</div>
<div class="t" style="left:692.92px;top:468.60px;font-size:10.4px;transform:scaleX(1.0861);transform-origin:0 0;color:#2e2e2e;-webkit-text-stroke:.18px #2e2e2e">61.28</div>
<div class="t" style="left:724.60px;top:468.60px;font-size:10.4px;transform:scaleX(0.8225);transform-origin:0 0;color:#2e2e2e;-webkit-text-stroke:.18px #2e2e2e">C</div>
<div class="t" style="left:799.88px;top:468.60px;font-size:10.4px;transform:scaleX(1.0820);transform-origin:0 0;color:#2e2e2e;-webkit-text-stroke:.18px #2e2e2e">0.61</div>
<div class="t" style="left:852.78px;top:468.60px;font-size:10.4px;transform:scaleX(1.0820);transform-origin:0 0;color:#2e2e2e;-webkit-text-stroke:.18px #2e2e2e">0.06</div>
<div class="t" style="left:877.90px;top:468.60px;font-size:10.4px;transform:scaleX(0.8457);transform-origin:0 0;color:#2e2e2e;-webkit-text-stroke:.18px #2e2e2e">E</div>
<div class="t" style="left:953.18px;top:468.60px;font-size:10.4px;transform:scaleX(1.0820);transform-origin:0 0;color:#2e2e2e;-webkit-text-stroke:.18px #2e2e2e">0.06</div>
<div class="t" style="left:979.50px;top:468.60px;font-size:10.4px;transform:scaleX(1.0459);transform-origin:0 0;color:#2e2e2e;-webkit-text-stroke:.18px #2e2e2e">15</div>
<div class="row" style="top:479.50px;height:16.00px;background:#f8f8e0"></div>
<div class="t" style="left:389.98px;top:483.90px;font-size:10.4px;transform:scaleX(1.0290);transform-origin:0 0;color:#2e2e2e;-webkit-text-stroke:.18px #2e2e2e">22</div>
<div class="t" style="left:404.60px;top:483.90px;font-size:10.4px;transform:scaleX(1.0241);transform-origin:0 0;color:#2e2e2e;-webkit-text-stroke:.18px #2e2e2e">RED INS WING WIRE CONN</div>
<div class="t" style="left:646.48px;top:483.90px;font-size:10.4px;transform:scaleX(1.0820);transform-origin:0 0;color:#2e2e2e;-webkit-text-stroke:.18px #2e2e2e">3.00</div>
<div class="t" style="left:699.28px;top:483.90px;font-size:10.4px;transform:scaleX(1.0820);transform-origin:0 0;color:#2e2e2e;-webkit-text-stroke:.18px #2e2e2e">0.06</div>
<div class="t" style="left:724.60px;top:483.90px;font-size:10.4px;transform:scaleX(0.8457);transform-origin:0 0;color:#2e2e2e;-webkit-text-stroke:.18px #2e2e2e">E</div>
<div class="t" style="left:799.88px;top:483.90px;font-size:10.4px;transform:scaleX(1.0820);transform-origin:0 0;color:#2e2e2e;-webkit-text-stroke:.18px #2e2e2e">0.18</div>
<div class="t" style="left:852.78px;top:483.90px;font-size:10.4px;transform:scaleX(1.0820);transform-origin:0 0;color:#2e2e2e;-webkit-text-stroke:.18px #2e2e2e">0.00</div>
<div class="t" style="left:877.90px;top:483.90px;font-size:10.4px;transform:scaleX(0.8457);transform-origin:0 0;color:#2e2e2e;-webkit-text-stroke:.18px #2e2e2e">E</div>
<div class="t" style="left:953.18px;top:483.90px;font-size:10.4px;transform:scaleX(1.0820);transform-origin:0 0;color:#2e2e2e;-webkit-text-stroke:.18px #2e2e2e">0.00</div>
<div class="t" style="left:979.50px;top:483.90px;font-size:10.4px;transform:scaleX(1.0459);transform-origin:0 0;color:#2e2e2e;-webkit-text-stroke:.18px #2e2e2e">25</div>
<div class="row" style="top:495.50px;height:15.40px;background:#fdfdf9"></div>
<div class="t" style="left:389.98px;top:499.60px;font-size:10.4px;transform:scaleX(1.0290);transform-origin:0 0;color:#2e2e2e;-webkit-text-stroke:.18px #2e2e2e">23</div>
<div class="t" style="left:404.60px;top:499.60px;font-size:10.4px;transform:scaleX(1.3121);transform-origin:0 0;color:#2e2e2e;-webkit-text-stroke:.18px #2e2e2e">----------</div>
<div class="row" style="top:510.90px;height:15.90px;background:#f8f8e0"></div>
<div class="t" style="left:389.98px;top:514.90px;font-size:10.4px;transform:scaleX(1.0290);transform-origin:0 0;color:#2e2e2e;-webkit-text-stroke:.18px #2e2e2e">24</div>
<div class="t" style="left:404.60px;top:514.90px;font-size:10.4px;transform:scaleX(1.0618);transform-origin:0 0;color:#2e2e2e;-webkit-text-stroke:.18px #2e2e2e">EMT 1/2</div>
<div class="t" style="left:633.76px;top:514.90px;font-size:10.4px;transform:scaleX(1.0887);transform-origin:0 0;color:#2e2e2e;-webkit-text-stroke:.18px #2e2e2e">230.00</div>
<div class="t" style="left:692.92px;top:514.90px;font-size:10.4px;transform:scaleX(1.0861);transform-origin:0 0;color:#2e2e2e;-webkit-text-stroke:.18px #2e2e2e">81.55</div>
<div class="t" style="left:724.60px;top:514.90px;font-size:10.4px;transform:scaleX(0.8225);transform-origin:0 0;color:#2e2e2e;-webkit-text-stroke:.18px #2e2e2e">C</div>
<div class="t" style="left:787.16px;top:514.90px;font-size:10.4px;transform:scaleX(1.0887);transform-origin:0 0;color:#2e2e2e;-webkit-text-stroke:.18px #2e2e2e">187.57</div>
<div class="t" style="left:852.78px;top:514.90px;font-size:10.4px;transform:scaleX(1.0820);transform-origin:0 0;color:#2e2e2e;-webkit-text-stroke:.18px #2e2e2e">4.08</div>
<div class="t" style="left:877.90px;top:514.90px;font-size:10.4px;transform:scaleX(0.8225);transform-origin:0 0;color:#2e2e2e;-webkit-text-stroke:.18px #2e2e2e">C</div>
<div class="t" style="left:953.18px;top:514.90px;font-size:10.4px;transform:scaleX(1.0820);transform-origin:0 0;color:#2e2e2e;-webkit-text-stroke:.18px #2e2e2e">9.38</div>
<div class="t" style="left:979.50px;top:514.90px;font-size:10.4px;transform:scaleX(1.0459);transform-origin:0 0;color:#2e2e2e;-webkit-text-stroke:.18px #2e2e2e">13</div>
<div class="row" style="top:526.80px;height:16.00px;background:#fdfdf9"></div>
<div class="t" style="left:389.98px;top:531.30px;font-size:10.4px;transform:scaleX(1.0290);transform-origin:0 0;color:#2e2e2e;-webkit-text-stroke:.18px #2e2e2e">25</div>
<div class="t" style="left:404.60px;top:531.30px;font-size:10.4px;transform:scaleX(1.0234);transform-origin:0 0;color:#2e2e2e;-webkit-text-stroke:.18px #2e2e2e">EMT COUP.SS STEEL 1/2&quot;</div>
<div class="t" style="left:640.12px;top:531.30px;font-size:10.4px;transform:scaleX(1.0861);transform-origin:0 0;color:#2e2e2e;-webkit-text-stroke:.18px #2e2e2e">22.00</div>
<div class="t" style="left:692.92px;top:531.30px;font-size:10.4px;transform:scaleX(1.0861);transform-origin:0 0;color:#2e2e2e;-webkit-text-stroke:.18px #2e2e2e">25.87</div>
<div class="t" style="left:724.60px;top:531.30px;font-size:10.4px;transform:scaleX(0.8225);transform-origin:0 0;color:#2e2e2e;-webkit-text-stroke:.18px #2e2e2e">C</div>
<div class="t" style="left:799.88px;top:531.30px;font-size:10.4px;transform:scaleX(1.0820);transform-origin:0 0;color:#2e2e2e;-webkit-text-stroke:.18px #2e2e2e">5.69</div>
<div class="t" style="left:852.78px;top:531.30px;font-size:10.4px;transform:scaleX(1.0820);transform-origin:0 0;color:#2e2e2e;-webkit-text-stroke:.18px #2e2e2e">1.79</div>
<div class="t" style="left:877.90px;top:531.30px;font-size:10.4px;transform:scaleX(0.8225);transform-origin:0 0;color:#2e2e2e;-webkit-text-stroke:.18px #2e2e2e">C</div>
<div class="t" style="left:953.18px;top:531.30px;font-size:10.4px;transform:scaleX(1.0820);transform-origin:0 0;color:#2e2e2e;-webkit-text-stroke:.18px #2e2e2e">0.39</div>
<div class="t" style="left:979.50px;top:531.30px;font-size:10.4px;transform:scaleX(1.0459);transform-origin:0 0;color:#2e2e2e;-webkit-text-stroke:.18px #2e2e2e">13</div>
<div class="row" style="top:542.80px;height:15.30px;background:#f8f8e0"></div>
<div class="t" style="left:389.98px;top:546.50px;font-size:10.4px;transform:scaleX(1.0290);transform-origin:0 0;color:#2e2e2e;-webkit-text-stroke:.18px #2e2e2e">26</div>
<div class="t" style="left:404.60px;top:546.50px;font-size:10.4px;transform:scaleX(1.0207);transform-origin:0 0;color:#2e2e2e;-webkit-text-stroke:.18px #2e2e2e">EMT CONN.SS STEEL 1/2&quot;</div>
<div class="t" style="left:640.12px;top:546.50px;font-size:10.4px;transform:scaleX(1.0861);transform-origin:0 0;color:#2e2e2e;-webkit-text-stroke:.18px #2e2e2e">16.00</div>
<div class="t" style="left:692.92px;top:546.50px;font-size:10.4px;transform:scaleX(1.0861);transform-origin:0 0;color:#2e2e2e;-webkit-text-stroke:.18px #2e2e2e">20.27</div>
<div class="t" style="left:724.60px;top:546.50px;font-size:10.4px;transform:scaleX(0.8225);transform-origin:0 0;color:#2e2e2e;-webkit-text-stroke:.18px #2e2e2e">C</div>
<div class="t" style="left:799.88px;top:546.50px;font-size:10.4px;transform:scaleX(1.0820);transform-origin:0 0;color:#2e2e2e;-webkit-text-stroke:.18px #2e2e2e">3.24</div>
<div class="t" style="left:852.78px;top:546.50px;font-size:10.4px;transform:scaleX(1.0820);transform-origin:0 0;color:#2e2e2e;-webkit-text-stroke:.18px #2e2e2e">3.58</div>
<div class="t" style="left:877.90px;top:546.50px;font-size:10.4px;transform:scaleX(0.8225);transform-origin:0 0;color:#2e2e2e;-webkit-text-stroke:.18px #2e2e2e">C</div>
<div class="t" style="left:953.18px;top:546.50px;font-size:10.4px;transform:scaleX(1.0820);transform-origin:0 0;color:#2e2e2e;-webkit-text-stroke:.18px #2e2e2e">0.57</div>
<div class="t" style="left:979.50px;top:546.50px;font-size:10.4px;transform:scaleX(1.0459);transform-origin:0 0;color:#2e2e2e;-webkit-text-stroke:.18px #2e2e2e">13</div>
<div class="row" style="top:558.10px;height:15.40px;background:#fdfdf9"></div>
<div class="t" style="left:389.98px;top:562.10px;font-size:10.4px;transform:scaleX(1.0290);transform-origin:0 0;color:#2e2e2e;-webkit-text-stroke:.18px #2e2e2e">27</div>
<div class="t" style="left:404.60px;top:562.10px;font-size:10.4px;transform:scaleX(1.0191);transform-origin:0 0;color:#2e2e2e;-webkit-text-stroke:.18px #2e2e2e">CONDUIT SUPPORTS 1/2&quot;</div>
<div class="t" style="left:640.12px;top:562.10px;font-size:10.4px;transform:scaleX(1.0861);transform-origin:0 0;color:#2e2e2e;-webkit-text-stroke:.18px #2e2e2e">29.00</div>
<div class="t" style="left:699.28px;top:562.10px;font-size:10.4px;transform:scaleX(1.0820);transform-origin:0 0;color:#2e2e2e;-webkit-text-stroke:.18px #2e2e2e">1.62</div>
<div class="t" style="left:724.60px;top:562.10px;font-size:10.4px;transform:scaleX(0.9267);transform-origin:0 0;color:#2e2e2e;-webkit-text-stroke:.18px #2e2e2e">e</div>
<div class="t" style="left:793.52px;top:562.10px;font-size:10.4px;transform:scaleX(1.0861);transform-origin:0 0;color:#2e2e2e;-webkit-text-stroke:.18px #2e2e2e">46.98</div>
<div class="t" style="left:852.78px;top:562.10px;font-size:10.4px;transform:scaleX(1.0820);transform-origin:0 0;color:#2e2e2e;-webkit-text-stroke:.18px #2e2e2e">0.17</div>
<div class="t" style="left:877.90px;top:562.10px;font-size:10.4px;transform:scaleX(0.8457);transform-origin:0 0;color:#2e2e2e;-webkit-text-stroke:.18px #2e2e2e">E</div>
<div class="t" style="left:953.18px;top:562.10px;font-size:10.4px;transform:scaleX(1.0820);transform-origin:0 0;color:#2e2e2e;-webkit-text-stroke:.18px #2e2e2e">4.93</div>
<div class="t" style="left:979.50px;top:562.10px;font-size:10.4px;transform:scaleX(1.0459);transform-origin:0 0;color:#2e2e2e;-webkit-text-stroke:.18px #2e2e2e">13</div>
<div class="row" style="top:573.50px;height:15.80px;background:#f8f8e0"></div>
<div class="t" style="left:389.98px;top:577.40px;font-size:10.4px;transform:scaleX(1.0290);transform-origin:0 0;color:#2e2e2e;-webkit-text-stroke:.18px #2e2e2e">28</div>
<div class="t" style="left:404.60px;top:577.40px;font-size:10.4px;transform:scaleX(1.0308);transform-origin:0 0;color:#2e2e2e;-webkit-text-stroke:.18px #2e2e2e">WIRE #12 CU STRANDED</div>
<div class="t" style="left:633.76px;top:577.40px;font-size:10.4px;transform:scaleX(1.0887);transform-origin:0 0;color:#2e2e2e;-webkit-text-stroke:.18px #2e2e2e">834.00</div>
<div class="t" style="left:686.56px;top:577.40px;font-size:10.4px;transform:scaleX(1.0887);transform-origin:0 0;color:#2e2e2e;-webkit-text-stroke:.18px #2e2e2e">218.40</div>
<div class="t" style="left:724.60px;top:577.40px;font-size:10.4px;transform:scaleX(1.0037);transform-origin:0 0;color:#2e2e2e;-webkit-text-stroke:.18px #2e2e2e">M</div>
<div class="t" style="left:787.16px;top:577.40px;font-size:10.4px;transform:scaleX(1.0887);transform-origin:0 0;color:#2e2e2e;-webkit-text-stroke:.18px #2e2e2e">182.15</div>
<div class="t" style="left:852.78px;top:577.40px;font-size:10.4px;transform:scaleX(1.0820);transform-origin:0 0;color:#2e2e2e;-webkit-text-stroke:.18px #2e2e2e">3.24</div>
<div class="t" style="left:877.90px;top:577.40px;font-size:10.4px;transform:scaleX(1.0037);transform-origin:0 0;color:#2e2e2e;-webkit-text-stroke:.18px #2e2e2e">M</div>
<div class="t" style="left:953.18px;top:577.40px;font-size:10.4px;transform:scaleX(1.0820);transform-origin:0 0;color:#2e2e2e;-webkit-text-stroke:.18px #2e2e2e">2.70</div>
<div class="t" style="left:979.50px;top:577.40px;font-size:10.4px;transform:scaleX(1.0459);transform-origin:0 0;color:#2e2e2e;-webkit-text-stroke:.18px #2e2e2e">25</div>
<div class="row" style="top:589.30px;height:16.20px;background:#fdfdf9"></div>
<div class="t" style="left:389.98px;top:593.50px;font-size:10.4px;transform:scaleX(1.0290);transform-origin:0 0;color:#2e2e2e;-webkit-text-stroke:.18px #2e2e2e">29</div>
<div class="t" style="left:404.60px;top:593.50px;font-size:10.4px;transform:scaleX(1.3121);transform-origin:0 0;color:#2e2e2e;-webkit-text-stroke:.18px #2e2e2e">----------</div>
<div class="vl" style="left:403px"></div>
<div class="vl" style="left:606px"></div>
<div class="vl" style="left:669.7px"></div>
<div class="vl" style="left:722.3px"></div>
<div class="vl" style="left:759.6px"></div>
<div class="vl" style="left:822.7px"></div>
<div class="vl" style="left:875.8px"></div>
<div class="vl" style="left:913.5px"></div>
<div class="vl" style="left:976.5px"></div>
<div class="up" style="left:1053px;top:131.6px;border-left-width:5px;border-right-width:5px;border-bottom-width:7px"></div>
<div class="sbar" style="left:1053.3px;top:143.3px;width:9.4px;height:335px;border-radius:5px"></div>
<div class="dn" style="left:1053px;top:593.2px;border-left-width:5px;border-right-width:5px;border-top-width:7px"></div>
<div class="abs beige" style="left:366.3px;top:605.5px;width:1168px;height:21.8px"></div>
<div class="abs" style="left:366.3px;top:627.2px;width:1168px;height:1.9px;background:#1c1c1c"></div>
<div class="t" style="left:1442.32px;top:608.80px;font-size:16.6px;transform:scaleX(1.0759);transform-origin:0 0;color:#262626">1 - 38 of 38</div>
</div></body></html>
